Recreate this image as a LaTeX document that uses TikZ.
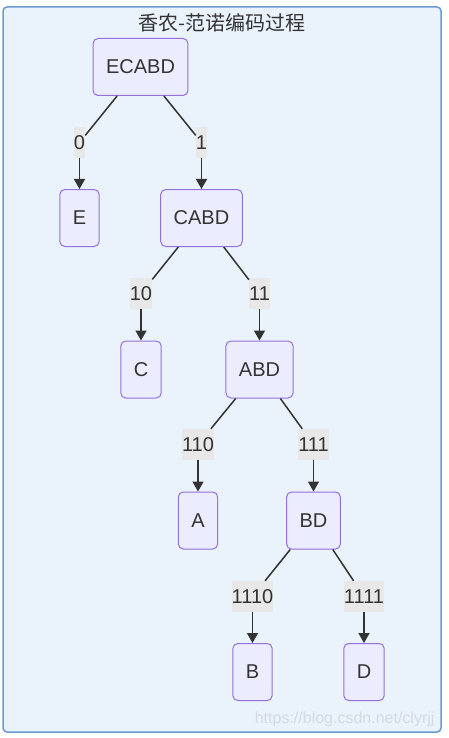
\documentclass[tikz,border=0pt]{standalone}
\usepackage{fontspec}
\setmainfont{Liberation Sans}
\newfontfamily\cjk{Noto Sans CJK SC}
\usetikzlibrary{arrows.meta}
\definecolor{nodefill}{HTML}{ECECFF}
\definecolor{nodeline}{HTML}{9370DB}
\definecolor{bitfill}{HTML}{E8E8E8}
\definecolor{edgecol}{HTML}{333333}
\definecolor{boxfill}{HTML}{EAF2FB}
\definecolor{boxline}{HTML}{6C9BCF}
\definecolor{wmark}{HTML}{D3DAE4}
\begin{document}
\begin{tikzpicture}[x=1pt,y=-1pt,
        treenode/.style={draw=nodeline,line width=1pt,fill=nodefill,rounded corners=5pt,minimum height=57pt,inner xsep=13pt,text=edgecol,font=\fontsize{20pt}{24pt}\selectfont},
        bit/.style={fill=bitfill,inner sep=0pt,minimum height=31pt,text=edgecol,font=\fontsize{20pt}{24pt}\selectfont},
        edge/.style={draw=edgecol,line width=1.5pt},
        arr/.style={edge,-{Triangle[length=10pt,width=11pt]}}]
                \useasboundingbox (0,0) rectangle (448,738);
                \draw[boxline,fill=boxfill,line width=1.5pt,rounded corners=4pt] (3,7) rectangle (441,732);
                \node[text=edgecol,font=\cjk\fontsize{20pt}{24pt}\selectfont] (title) at (222,23) {香农-范诺编码过程};
                % tree nodes
                \node[treenode] (ECABD) at (140.5,67) {ECABD};
                \node[treenode] (E) at (79.5,218) {E};
                \node[treenode] (CABD) at (201.5,218) {CABD};
                \node[treenode] (C) at (141,369.5) {C};
                \node[treenode] (ABD) at (259.5,369.5) {ABD};
                \node[treenode] (A) at (198,520.5) {A};
                \node[treenode] (BD) at (313.5,520.5) {BD};
                \node[treenode] (B) at (252.5,672) {B};
                \node[treenode] (D) at (364,672) {D};
                % code labels
                \node[bit] (b0) at (79.5,142.5) {0};
                \node[bit] (b1) at (201.5,142.5) {1};
                \node[bit] (b10) at (141,293.5) {10};
                \node[bit] (b11) at (259.5,293.5) {11};
                \node[bit] (b110) at (198,444.5) {110};
                \node[bit] (b111) at (313.5,444.5) {111};
                \node[bit] (b1110) at (252.5,596.5) {1110};
                \node[bit] (b1111) at (364,596.5) {1111};
                % edges
                \draw[edge] (ECABD) -- (b0);
                \draw[arr] (b0) -- (E);
                \draw[edge] (ECABD) -- (b1);
                \draw[arr] (b1) -- (CABD);
                \draw[edge] (CABD) -- (b10);
                \draw[arr] (b10) -- (C);
                \draw[edge] (CABD) -- (b11);
                \draw[arr] (b11) -- (ABD);
                \draw[edge] (ABD) -- (b110);
                \draw[arr] (b110) -- (A);
                \draw[edge] (ABD) -- (b111);
                \draw[arr] (b111) -- (BD);
                \draw[edge] (BD) -- (b1110);
                \draw[arr] (b1110) -- (B);
                \draw[edge] (BD) -- (b1111);
                \draw[arr] (b1111) -- (D);
                \node[anchor=east,text=wmark,font=\fontsize{16pt}{18pt}\selectfont] (wm) at (438,719) {https://blog.csdn.net/clyrjj};
            \end{tikzpicture}
\end{document}
